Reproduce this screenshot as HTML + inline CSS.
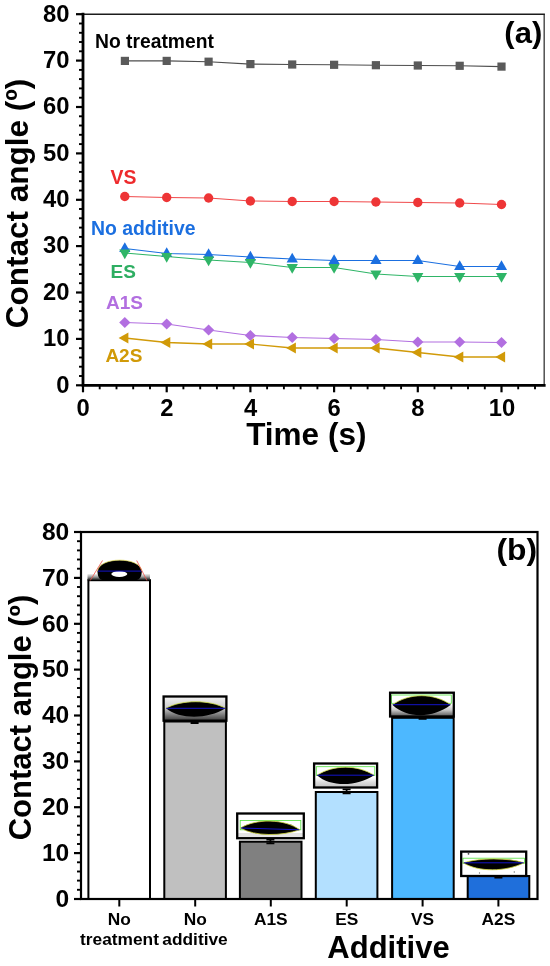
<!DOCTYPE html>
<html lang="en"><head><meta charset="utf-8"><title>Contact angle charts</title>
<style>html,body{margin:0;padding:0;background:#fff;}body{width:550px;height:966px;overflow:hidden;}svg{display:block;}text{font-family:"Liberation Sans", Arial, Helvetica, sans-serif;font-weight:bold;}</style>
</head><body>
<svg width="550" height="966" viewBox="0 0 550 966">
<rect x="0" y="0" width="550" height="966" fill="#ffffff"/>
<g id="chart-a">
<path d="M544.2 14.2 V385.3" fill="none" stroke="#505050" stroke-width="1.5"/>
<path d="M83.0 14.2 H544.9" fill="none" stroke="#1c1c1c" stroke-width="1.5"/>
<path d="M83.0 14.2 V385.3 H544.2" fill="none" stroke="#000" stroke-width="2.8" stroke-linecap="square"/>
<line x1="76.0" y1="385.3" x2="83.0" y2="385.3" stroke="#000" stroke-width="2.2"/>
<line x1="79.0" y1="376.0" x2="83.0" y2="376.0" stroke="#000" stroke-width="1.9"/>
<line x1="79.0" y1="366.7" x2="83.0" y2="366.7" stroke="#000" stroke-width="1.9"/>
<line x1="79.0" y1="357.5" x2="83.0" y2="357.5" stroke="#000" stroke-width="1.9"/>
<line x1="79.0" y1="348.2" x2="83.0" y2="348.2" stroke="#000" stroke-width="1.9"/>
<line x1="76.0" y1="338.9" x2="83.0" y2="338.9" stroke="#000" stroke-width="2.2"/>
<line x1="79.0" y1="329.6" x2="83.0" y2="329.6" stroke="#000" stroke-width="1.9"/>
<line x1="79.0" y1="320.4" x2="83.0" y2="320.4" stroke="#000" stroke-width="1.9"/>
<line x1="79.0" y1="311.1" x2="83.0" y2="311.1" stroke="#000" stroke-width="1.9"/>
<line x1="79.0" y1="301.8" x2="83.0" y2="301.8" stroke="#000" stroke-width="1.9"/>
<line x1="76.0" y1="292.5" x2="83.0" y2="292.5" stroke="#000" stroke-width="2.2"/>
<line x1="79.0" y1="283.2" x2="83.0" y2="283.2" stroke="#000" stroke-width="1.9"/>
<line x1="79.0" y1="274.0" x2="83.0" y2="274.0" stroke="#000" stroke-width="1.9"/>
<line x1="79.0" y1="264.7" x2="83.0" y2="264.7" stroke="#000" stroke-width="1.9"/>
<line x1="79.0" y1="255.4" x2="83.0" y2="255.4" stroke="#000" stroke-width="1.9"/>
<line x1="76.0" y1="246.1" x2="83.0" y2="246.1" stroke="#000" stroke-width="2.2"/>
<line x1="79.0" y1="236.9" x2="83.0" y2="236.9" stroke="#000" stroke-width="1.9"/>
<line x1="79.0" y1="227.6" x2="83.0" y2="227.6" stroke="#000" stroke-width="1.9"/>
<line x1="79.0" y1="218.3" x2="83.0" y2="218.3" stroke="#000" stroke-width="1.9"/>
<line x1="79.0" y1="209.0" x2="83.0" y2="209.0" stroke="#000" stroke-width="1.9"/>
<line x1="76.0" y1="199.8" x2="83.0" y2="199.8" stroke="#000" stroke-width="2.2"/>
<line x1="79.0" y1="190.5" x2="83.0" y2="190.5" stroke="#000" stroke-width="1.9"/>
<line x1="79.0" y1="181.2" x2="83.0" y2="181.2" stroke="#000" stroke-width="1.9"/>
<line x1="79.0" y1="171.9" x2="83.0" y2="171.9" stroke="#000" stroke-width="1.9"/>
<line x1="79.0" y1="162.6" x2="83.0" y2="162.6" stroke="#000" stroke-width="1.9"/>
<line x1="76.0" y1="153.4" x2="83.0" y2="153.4" stroke="#000" stroke-width="2.2"/>
<line x1="79.0" y1="144.1" x2="83.0" y2="144.1" stroke="#000" stroke-width="1.9"/>
<line x1="79.0" y1="134.8" x2="83.0" y2="134.8" stroke="#000" stroke-width="1.9"/>
<line x1="79.0" y1="125.5" x2="83.0" y2="125.5" stroke="#000" stroke-width="1.9"/>
<line x1="79.0" y1="116.3" x2="83.0" y2="116.3" stroke="#000" stroke-width="1.9"/>
<line x1="76.0" y1="107.0" x2="83.0" y2="107.0" stroke="#000" stroke-width="2.2"/>
<line x1="79.0" y1="97.7" x2="83.0" y2="97.7" stroke="#000" stroke-width="1.9"/>
<line x1="79.0" y1="88.4" x2="83.0" y2="88.4" stroke="#000" stroke-width="1.9"/>
<line x1="79.0" y1="79.1" x2="83.0" y2="79.1" stroke="#000" stroke-width="1.9"/>
<line x1="79.0" y1="69.9" x2="83.0" y2="69.9" stroke="#000" stroke-width="1.9"/>
<line x1="76.0" y1="60.6" x2="83.0" y2="60.6" stroke="#000" stroke-width="2.2"/>
<line x1="79.0" y1="51.3" x2="83.0" y2="51.3" stroke="#000" stroke-width="1.9"/>
<line x1="79.0" y1="42.0" x2="83.0" y2="42.0" stroke="#000" stroke-width="1.9"/>
<line x1="79.0" y1="32.8" x2="83.0" y2="32.8" stroke="#000" stroke-width="1.9"/>
<line x1="79.0" y1="23.5" x2="83.0" y2="23.5" stroke="#000" stroke-width="1.9"/>
<line x1="76.0" y1="14.2" x2="83.0" y2="14.2" stroke="#000" stroke-width="2.2"/>
<line x1="83.0" y1="385.3" x2="83.0" y2="392.3" stroke="#000" stroke-width="2.2"/>
<line x1="99.7" y1="385.3" x2="99.7" y2="389.3" stroke="#000" stroke-width="1.9"/>
<line x1="116.5" y1="385.3" x2="116.5" y2="389.3" stroke="#000" stroke-width="1.9"/>
<line x1="133.2" y1="385.3" x2="133.2" y2="389.3" stroke="#000" stroke-width="1.9"/>
<line x1="150.0" y1="385.3" x2="150.0" y2="389.3" stroke="#000" stroke-width="1.9"/>
<line x1="166.7" y1="385.3" x2="166.7" y2="392.3" stroke="#000" stroke-width="2.2"/>
<line x1="183.4" y1="385.3" x2="183.4" y2="389.3" stroke="#000" stroke-width="1.9"/>
<line x1="200.2" y1="385.3" x2="200.2" y2="389.3" stroke="#000" stroke-width="1.9"/>
<line x1="216.9" y1="385.3" x2="216.9" y2="389.3" stroke="#000" stroke-width="1.9"/>
<line x1="233.7" y1="385.3" x2="233.7" y2="389.3" stroke="#000" stroke-width="1.9"/>
<line x1="250.4" y1="385.3" x2="250.4" y2="392.3" stroke="#000" stroke-width="2.2"/>
<line x1="267.1" y1="385.3" x2="267.1" y2="389.3" stroke="#000" stroke-width="1.9"/>
<line x1="283.9" y1="385.3" x2="283.9" y2="389.3" stroke="#000" stroke-width="1.9"/>
<line x1="300.6" y1="385.3" x2="300.6" y2="389.3" stroke="#000" stroke-width="1.9"/>
<line x1="317.4" y1="385.3" x2="317.4" y2="389.3" stroke="#000" stroke-width="1.9"/>
<line x1="334.1" y1="385.3" x2="334.1" y2="392.3" stroke="#000" stroke-width="2.2"/>
<line x1="350.8" y1="385.3" x2="350.8" y2="389.3" stroke="#000" stroke-width="1.9"/>
<line x1="367.6" y1="385.3" x2="367.6" y2="389.3" stroke="#000" stroke-width="1.9"/>
<line x1="384.3" y1="385.3" x2="384.3" y2="389.3" stroke="#000" stroke-width="1.9"/>
<line x1="401.1" y1="385.3" x2="401.1" y2="389.3" stroke="#000" stroke-width="1.9"/>
<line x1="417.8" y1="385.3" x2="417.8" y2="392.3" stroke="#000" stroke-width="2.2"/>
<line x1="434.5" y1="385.3" x2="434.5" y2="389.3" stroke="#000" stroke-width="1.9"/>
<line x1="451.3" y1="385.3" x2="451.3" y2="389.3" stroke="#000" stroke-width="1.9"/>
<line x1="468.0" y1="385.3" x2="468.0" y2="389.3" stroke="#000" stroke-width="1.9"/>
<line x1="484.8" y1="385.3" x2="484.8" y2="389.3" stroke="#000" stroke-width="1.9"/>
<line x1="501.5" y1="385.3" x2="501.5" y2="392.3" stroke="#000" stroke-width="2.2"/>
<line x1="518.2" y1="385.3" x2="518.2" y2="389.3" stroke="#000" stroke-width="1.9"/>
<line x1="535.0" y1="385.3" x2="535.0" y2="389.3" stroke="#000" stroke-width="1.9"/>
<text transform="translate(69.5 392.6) scale(1.035 1)" font-size="23" text-anchor="end" fill="#000">0</text>
<text transform="translate(69.5 346.2) scale(1.035 1)" font-size="23" text-anchor="end" fill="#000">10</text>
<text transform="translate(69.5 299.8) scale(1.035 1)" font-size="23" text-anchor="end" fill="#000">20</text>
<text transform="translate(69.5 253.4) scale(1.035 1)" font-size="23" text-anchor="end" fill="#000">30</text>
<text transform="translate(69.5 207.1) scale(1.035 1)" font-size="23" text-anchor="end" fill="#000">40</text>
<text transform="translate(69.5 160.7) scale(1.035 1)" font-size="23" text-anchor="end" fill="#000">50</text>
<text transform="translate(69.5 114.3) scale(1.035 1)" font-size="23" text-anchor="end" fill="#000">60</text>
<text transform="translate(69.5 67.9) scale(1.035 1)" font-size="23" text-anchor="end" fill="#000">70</text>
<text transform="translate(69.5 21.5) scale(1.035 1)" font-size="23" text-anchor="end" fill="#000">80</text>
<text transform="translate(83.1 416.4) scale(1.035 1)" font-size="23" text-anchor="middle" fill="#000">0</text>
<text transform="translate(166.8 416.4) scale(1.035 1)" font-size="23" text-anchor="middle" fill="#000">2</text>
<text transform="translate(250.5 416.4) scale(1.035 1)" font-size="23" text-anchor="middle" fill="#000">4</text>
<text transform="translate(334.2 416.4) scale(1.035 1)" font-size="23" text-anchor="middle" fill="#000">6</text>
<text transform="translate(417.9 416.4) scale(1.035 1)" font-size="23" text-anchor="middle" fill="#000">8</text>
<text transform="translate(502.0 416.4) scale(1.035 1)" font-size="23" text-anchor="middle" fill="#000">10</text>
<text transform="translate(27.5 203.5) rotate(-90)" font-size="31.5" text-anchor="middle" fill="#000">Contact angle (º)</text>
<text x="306.3" y="445" font-size="31.5" text-anchor="middle" fill="#000">Time (s)</text>
<text transform="translate(523.3 42.8) scale(1.07 1)" font-size="29" text-anchor="middle" fill="#000">(a)</text>
<polyline points="124.8,60.9 166.7,60.9 208.6,61.7 250.4,64.1 292.2,64.5 334.1,64.8 375.9,65.2 417.8,65.5 459.7,65.8 501.5,66.6" fill="none" stroke="#4d4d4d" stroke-width="1.1"/>
<rect x="120.8" y="56.8" width="8.2" height="8.2" fill="#5a5a5a"/>
<rect x="162.6" y="56.8" width="8.2" height="8.2" fill="#5a5a5a"/>
<rect x="204.5" y="57.6" width="8.2" height="8.2" fill="#5a5a5a"/>
<rect x="246.3" y="60.0" width="8.2" height="8.2" fill="#5a5a5a"/>
<rect x="288.1" y="60.4" width="8.2" height="8.2" fill="#5a5a5a"/>
<rect x="330.0" y="60.7" width="8.2" height="8.2" fill="#5a5a5a"/>
<rect x="371.8" y="61.1" width="8.2" height="8.2" fill="#5a5a5a"/>
<rect x="413.7" y="61.4" width="8.2" height="8.2" fill="#5a5a5a"/>
<rect x="455.6" y="61.7" width="8.2" height="8.2" fill="#5a5a5a"/>
<rect x="497.4" y="62.5" width="8.2" height="8.2" fill="#5a5a5a"/>
<polyline points="124.8,196.5 166.7,197.5 208.6,198.0 250.4,201.0 292.2,201.5 334.1,201.5 375.9,202.0 417.8,202.5 459.7,203.0 501.5,204.5" fill="none" stroke="#f04a4c" stroke-width="1.1"/>
<circle cx="124.8" cy="196.5" r="4.7" fill="#ee3536"/>
<circle cx="166.7" cy="197.5" r="4.7" fill="#ee3536"/>
<circle cx="208.6" cy="198.0" r="4.7" fill="#ee3536"/>
<circle cx="250.4" cy="201.0" r="4.7" fill="#ee3536"/>
<circle cx="292.2" cy="201.5" r="4.7" fill="#ee3536"/>
<circle cx="334.1" cy="201.5" r="4.7" fill="#ee3536"/>
<circle cx="375.9" cy="202.0" r="4.7" fill="#ee3536"/>
<circle cx="417.8" cy="202.5" r="4.7" fill="#ee3536"/>
<circle cx="459.7" cy="203.0" r="4.7" fill="#ee3536"/>
<circle cx="501.5" cy="204.5" r="4.7" fill="#ee3536"/>
<polyline points="124.8,248.5 166.7,253.5 208.6,254.5 250.4,257.0 292.2,259.0 334.1,260.5 375.9,260.5 417.8,260.5 459.7,266.5 501.5,266.5" fill="none" stroke="#1b6fe0" stroke-width="1.1"/>
<path d="M124.8 242.3 L130.4 252.1 L119.2 252.1 Z" fill="#1b6fe0"/>
<path d="M166.7 247.3 L172.3 257.1 L161.1 257.1 Z" fill="#1b6fe0"/>
<path d="M208.6 248.3 L214.2 258.1 L203.0 258.1 Z" fill="#1b6fe0"/>
<path d="M250.4 250.8 L256.0 260.6 L244.8 260.6 Z" fill="#1b6fe0"/>
<path d="M292.2 252.8 L297.9 262.6 L286.6 262.6 Z" fill="#1b6fe0"/>
<path d="M334.1 254.3 L339.7 264.1 L328.5 264.1 Z" fill="#1b6fe0"/>
<path d="M375.9 254.3 L381.6 264.1 L370.3 264.1 Z" fill="#1b6fe0"/>
<path d="M417.8 254.3 L423.4 264.1 L412.2 264.1 Z" fill="#1b6fe0"/>
<path d="M459.7 260.3 L465.3 270.1 L454.1 270.1 Z" fill="#1b6fe0"/>
<path d="M501.5 260.3 L507.1 270.1 L495.9 270.1 Z" fill="#1b6fe0"/>
<polyline points="124.8,253.0 166.7,256.5 208.6,260.0 250.4,262.5 292.2,267.5 334.1,267.5 375.9,274.0 417.8,276.5 459.7,276.5 501.5,276.5" fill="none" stroke="#2fb567" stroke-width="1.1"/>
<path d="M124.8 259.2 L130.4 249.4 L119.2 249.4 Z" fill="#2fb567"/>
<path d="M166.7 262.7 L172.3 252.9 L161.1 252.9 Z" fill="#2fb567"/>
<path d="M208.6 266.2 L214.2 256.4 L203.0 256.4 Z" fill="#2fb567"/>
<path d="M250.4 268.7 L256.0 258.9 L244.8 258.9 Z" fill="#2fb567"/>
<path d="M292.2 273.7 L297.9 263.9 L286.6 263.9 Z" fill="#2fb567"/>
<path d="M334.1 273.7 L339.7 263.9 L328.5 263.9 Z" fill="#2fb567"/>
<path d="M375.9 280.2 L381.6 270.4 L370.3 270.4 Z" fill="#2fb567"/>
<path d="M417.8 282.7 L423.4 272.9 L412.2 272.9 Z" fill="#2fb567"/>
<path d="M459.7 282.7 L465.3 272.9 L454.1 272.9 Z" fill="#2fb567"/>
<path d="M501.5 282.7 L507.1 272.9 L495.9 272.9 Z" fill="#2fb567"/>
<polyline points="124.8,322.5 166.7,324.0 208.6,330.0 250.4,335.5 292.2,337.5 334.1,338.5 375.9,339.5 417.8,342.0 459.7,342.0 501.5,342.5" fill="none" stroke="#b26fe0" stroke-width="1.1"/>
<path d="M124.8 316.9 L130.4 322.5 L124.8 328.1 L119.2 322.5 Z" fill="#b26fe0"/>
<path d="M166.7 318.4 L172.3 324.0 L166.7 329.6 L161.1 324.0 Z" fill="#b26fe0"/>
<path d="M208.6 324.4 L214.2 330.0 L208.6 335.6 L203.0 330.0 Z" fill="#b26fe0"/>
<path d="M250.4 329.9 L256.0 335.5 L250.4 341.1 L244.8 335.5 Z" fill="#b26fe0"/>
<path d="M292.2 331.9 L297.9 337.5 L292.2 343.1 L286.6 337.5 Z" fill="#b26fe0"/>
<path d="M334.1 332.9 L339.7 338.5 L334.1 344.1 L328.5 338.5 Z" fill="#b26fe0"/>
<path d="M375.9 333.9 L381.6 339.5 L375.9 345.1 L370.3 339.5 Z" fill="#b26fe0"/>
<path d="M417.8 336.4 L423.4 342.0 L417.8 347.6 L412.2 342.0 Z" fill="#b26fe0"/>
<path d="M459.7 336.4 L465.3 342.0 L459.7 347.6 L454.1 342.0 Z" fill="#b26fe0"/>
<path d="M501.5 336.9 L507.1 342.5 L501.5 348.1 L495.9 342.5 Z" fill="#b26fe0"/>
<polyline points="124.8,338.0 166.7,342.5 208.6,344.0 250.4,344.0 292.2,348.0 334.1,348.0 375.9,348.0 417.8,352.5 459.7,357.0 501.5,357.0" fill="none" stroke="#d19a08" stroke-width="1.4"/>
<path d="M118.6 338.0 L128.4 332.4 L128.4 343.6 Z" fill="#d19a08"/>
<path d="M160.5 342.5 L170.3 336.9 L170.3 348.1 Z" fill="#d19a08"/>
<path d="M202.4 344.0 L212.2 338.4 L212.2 349.6 Z" fill="#d19a08"/>
<path d="M244.2 344.0 L254.0 338.4 L254.0 349.6 Z" fill="#d19a08"/>
<path d="M286.1 348.0 L295.9 342.4 L295.9 353.6 Z" fill="#d19a08"/>
<path d="M327.9 348.0 L337.7 342.4 L337.7 353.6 Z" fill="#d19a08"/>
<path d="M369.8 348.0 L379.6 342.4 L379.6 353.6 Z" fill="#d19a08"/>
<path d="M411.6 352.5 L421.4 346.9 L421.4 358.1 Z" fill="#d19a08"/>
<path d="M453.5 357.0 L463.3 351.4 L463.3 362.6 Z" fill="#d19a08"/>
<path d="M495.3 357.0 L505.1 351.4 L505.1 362.6 Z" fill="#d19a08"/>
<text x="95" y="47.6" font-size="19.3" fill="#000">No treatment</text>
<text x="110.5" y="184.2" font-size="19.4" fill="#ee2a2c">VS</text>
<text x="91" y="234.6" font-size="19.4" fill="#1b6fe0">No additive</text>
<text x="110.6" y="278.4" font-size="19" fill="#2eae62">ES</text>
<text x="106" y="308.5" font-size="19" fill="#b26fe0">A1S</text>
<text x="105.4" y="361.6" font-size="19" fill="#d19a08">A2S</text>
</g>
<g id="chart-b">
<defs>
<linearGradient id="gg" x1="0" y1="0" x2="0" y2="1"><stop offset="0" stop-color="#f4f4f4"/><stop offset="0.45" stop-color="#cfcfcf"/><stop offset="1" stop-color="#3a3a3a"/></linearGradient>
<linearGradient id="gw" x1="0" y1="0" x2="0" y2="1"><stop offset="0" stop-color="#ffffff"/><stop offset="0.7" stop-color="#f1f1f1"/><stop offset="1" stop-color="#d8d8d8"/></linearGradient>
<linearGradient id="gb" x1="0" y1="0" x2="0" y2="1"><stop offset="0" stop-color="#ffffff"/><stop offset="0.5" stop-color="#9a9a9a"/><stop offset="1" stop-color="#000000"/></linearGradient>
<linearGradient id="gs" x1="0" y1="0" x2="0" y2="1"><stop offset="0" stop-color="#ffffff"/><stop offset="0.5" stop-color="#dcdcdc"/><stop offset="1" stop-color="#c4c4c4"/></linearGradient>
<linearGradient id="gd" x1="0" y1="0" x2="0" y2="1"><stop offset="0" stop-color="#ffffff"/><stop offset="0.5" stop-color="#c8c8c8"/><stop offset="1" stop-color="#5a5a5a"/></linearGradient>
</defs>
<rect x="88.4" y="580.2" width="61.6" height="318.8" fill="#ffffff" stroke="#000" stroke-width="2"/>
<rect x="164.3" y="721.5" width="61.6" height="177.5" fill="#c0c0c0" stroke="#000" stroke-width="2"/>
<rect x="239.9" y="841.7" width="61.6" height="57.3" fill="#808080" stroke="#000" stroke-width="2"/>
<rect x="315.8" y="792.0" width="61.6" height="107.0" fill="#b3e0ff" stroke="#000" stroke-width="2"/>
<rect x="392.1" y="717.8" width="61.6" height="181.2" fill="#4db8ff" stroke="#000" stroke-width="2"/>
<rect x="467.7" y="876.0" width="61.6" height="23.0" fill="#1f6fdb" stroke="#000" stroke-width="2"/>
<rect x="81.0" y="532.0" width="456.5" height="367.0" fill="none" stroke="#000" stroke-width="2.2"/>
<line x1="74.0" y1="899.0" x2="81.0" y2="899.0" stroke="#000" stroke-width="2.2"/>
<line x1="77.0" y1="889.8" x2="81.0" y2="889.8" stroke="#000" stroke-width="1.9"/>
<line x1="77.0" y1="880.6" x2="81.0" y2="880.6" stroke="#000" stroke-width="1.9"/>
<line x1="77.0" y1="871.5" x2="81.0" y2="871.5" stroke="#000" stroke-width="1.9"/>
<line x1="77.0" y1="862.3" x2="81.0" y2="862.3" stroke="#000" stroke-width="1.9"/>
<line x1="74.0" y1="853.1" x2="81.0" y2="853.1" stroke="#000" stroke-width="2.2"/>
<line x1="77.0" y1="844.0" x2="81.0" y2="844.0" stroke="#000" stroke-width="1.9"/>
<line x1="77.0" y1="834.8" x2="81.0" y2="834.8" stroke="#000" stroke-width="1.9"/>
<line x1="77.0" y1="825.6" x2="81.0" y2="825.6" stroke="#000" stroke-width="1.9"/>
<line x1="77.0" y1="816.4" x2="81.0" y2="816.4" stroke="#000" stroke-width="1.9"/>
<line x1="74.0" y1="807.2" x2="81.0" y2="807.2" stroke="#000" stroke-width="2.2"/>
<line x1="77.0" y1="798.1" x2="81.0" y2="798.1" stroke="#000" stroke-width="1.9"/>
<line x1="77.0" y1="788.9" x2="81.0" y2="788.9" stroke="#000" stroke-width="1.9"/>
<line x1="77.0" y1="779.7" x2="81.0" y2="779.7" stroke="#000" stroke-width="1.9"/>
<line x1="77.0" y1="770.5" x2="81.0" y2="770.5" stroke="#000" stroke-width="1.9"/>
<line x1="74.0" y1="761.4" x2="81.0" y2="761.4" stroke="#000" stroke-width="2.2"/>
<line x1="77.0" y1="752.2" x2="81.0" y2="752.2" stroke="#000" stroke-width="1.9"/>
<line x1="77.0" y1="743.0" x2="81.0" y2="743.0" stroke="#000" stroke-width="1.9"/>
<line x1="77.0" y1="733.9" x2="81.0" y2="733.9" stroke="#000" stroke-width="1.9"/>
<line x1="77.0" y1="724.7" x2="81.0" y2="724.7" stroke="#000" stroke-width="1.9"/>
<line x1="74.0" y1="715.5" x2="81.0" y2="715.5" stroke="#000" stroke-width="2.2"/>
<line x1="77.0" y1="706.3" x2="81.0" y2="706.3" stroke="#000" stroke-width="1.9"/>
<line x1="77.0" y1="697.1" x2="81.0" y2="697.1" stroke="#000" stroke-width="1.9"/>
<line x1="77.0" y1="688.0" x2="81.0" y2="688.0" stroke="#000" stroke-width="1.9"/>
<line x1="77.0" y1="678.8" x2="81.0" y2="678.8" stroke="#000" stroke-width="1.9"/>
<line x1="74.0" y1="669.6" x2="81.0" y2="669.6" stroke="#000" stroke-width="2.2"/>
<line x1="77.0" y1="660.5" x2="81.0" y2="660.5" stroke="#000" stroke-width="1.9"/>
<line x1="77.0" y1="651.3" x2="81.0" y2="651.3" stroke="#000" stroke-width="1.9"/>
<line x1="77.0" y1="642.1" x2="81.0" y2="642.1" stroke="#000" stroke-width="1.9"/>
<line x1="77.0" y1="632.9" x2="81.0" y2="632.9" stroke="#000" stroke-width="1.9"/>
<line x1="74.0" y1="623.8" x2="81.0" y2="623.8" stroke="#000" stroke-width="2.2"/>
<line x1="77.0" y1="614.6" x2="81.0" y2="614.6" stroke="#000" stroke-width="1.9"/>
<line x1="77.0" y1="605.4" x2="81.0" y2="605.4" stroke="#000" stroke-width="1.9"/>
<line x1="77.0" y1="596.2" x2="81.0" y2="596.2" stroke="#000" stroke-width="1.9"/>
<line x1="77.0" y1="587.0" x2="81.0" y2="587.0" stroke="#000" stroke-width="1.9"/>
<line x1="74.0" y1="577.9" x2="81.0" y2="577.9" stroke="#000" stroke-width="2.2"/>
<line x1="77.0" y1="568.7" x2="81.0" y2="568.7" stroke="#000" stroke-width="1.9"/>
<line x1="77.0" y1="559.5" x2="81.0" y2="559.5" stroke="#000" stroke-width="1.9"/>
<line x1="77.0" y1="550.4" x2="81.0" y2="550.4" stroke="#000" stroke-width="1.9"/>
<line x1="77.0" y1="541.2" x2="81.0" y2="541.2" stroke="#000" stroke-width="1.9"/>
<line x1="74.0" y1="532.0" x2="81.0" y2="532.0" stroke="#000" stroke-width="2.2"/>
<line x1="119.3" y1="899.0" x2="119.3" y2="906.5" stroke="#000" stroke-width="2"/>
<line x1="195.2" y1="899.0" x2="195.2" y2="906.5" stroke="#000" stroke-width="2"/>
<line x1="270.8" y1="899.0" x2="270.8" y2="906.5" stroke="#000" stroke-width="2"/>
<line x1="346.7" y1="899.0" x2="346.7" y2="906.5" stroke="#000" stroke-width="2"/>
<line x1="422.6" y1="899.0" x2="422.6" y2="906.5" stroke="#000" stroke-width="2"/>
<line x1="498.4" y1="899.0" x2="498.4" y2="906.5" stroke="#000" stroke-width="2"/>
<text transform="translate(69.3 906.8) scale(1.07 1)" font-size="23" text-anchor="end" fill="#000">0</text>
<text transform="translate(69.3 860.9) scale(1.07 1)" font-size="23" text-anchor="end" fill="#000">10</text>
<text transform="translate(69.3 815.0) scale(1.07 1)" font-size="23" text-anchor="end" fill="#000">20</text>
<text transform="translate(69.3 769.2) scale(1.07 1)" font-size="23" text-anchor="end" fill="#000">30</text>
<text transform="translate(69.3 723.3) scale(1.07 1)" font-size="23" text-anchor="end" fill="#000">40</text>
<text transform="translate(69.3 677.4) scale(1.07 1)" font-size="23" text-anchor="end" fill="#000">50</text>
<text transform="translate(69.3 631.5) scale(1.07 1)" font-size="23" text-anchor="end" fill="#000">60</text>
<text transform="translate(69.3 585.7) scale(1.07 1)" font-size="23" text-anchor="end" fill="#000">70</text>
<text transform="translate(69.3 539.8) scale(1.07 1)" font-size="23" text-anchor="end" fill="#000">80</text>
<text transform="translate(31.3 717.5) rotate(-90)" font-size="31" text-anchor="middle" fill="#000">Contact angle (º)</text>
<text x="388.5" y="958" font-size="31" text-anchor="middle" fill="#000">Additive</text>
<text transform="translate(516.8 559.6) scale(1.06 1)" font-size="30" text-anchor="middle" fill="#000">(b)</text>
<text transform="translate(119.3 924.6) scale(1.07 1)" font-size="16.2" text-anchor="middle" fill="#000">No</text>
<text transform="translate(119.5 945.4) scale(1.07 1)" font-size="16.2" text-anchor="middle" fill="#000">treatment</text>
<text transform="translate(195.2 924.6) scale(1.07 1)" font-size="16.2" text-anchor="middle" fill="#000">No</text>
<text transform="translate(195.0 945.4) scale(1.07 1)" font-size="16.2" text-anchor="middle" fill="#000">additive</text>
<text transform="translate(270.8 924.6) scale(1.07 1)" font-size="16.2" text-anchor="middle" fill="#000">A1S</text>
<text transform="translate(346.7 924.6) scale(1.07 1)" font-size="16.2" text-anchor="middle" fill="#000">ES</text>
<text transform="translate(422.6 924.6) scale(1.07 1)" font-size="16.2" text-anchor="middle" fill="#000">VS</text>
<text transform="translate(498.4 924.6) scale(1.07 1)" font-size="16.2" text-anchor="middle" fill="#000">A2S</text>
<g id="inset1">
<rect x="87.5" y="573.5" width="62.5" height="7" fill="url(#gb)"/>
<path d="M97.5 571.3 C99 556.4 140.4 556.4 141.8 571.3 C141.8 576.5 139.5 580 136.5 580 L102.5 580 C99.5 580 97.5 576.5 97.5 571.3 Z" fill="#000"/>
<path d="M97.5 571.3 C99 556.4 140.4 556.4 141.8 571.3" fill="none" stroke="#e0d84a" stroke-width="0.7"/>
<ellipse cx="119.3" cy="574" rx="8" ry="2.9" fill="#fff"/>
<line x1="98" y1="571.1" x2="141.5" y2="571.1" stroke="#1414c8" stroke-width="1"/>
<line x1="90.2" y1="580.5" x2="102.5" y2="560.5" stroke="#f0504a" stroke-width="0.8"/>
<line x1="146.9" y1="580.5" x2="136.7" y2="560.5" stroke="#f0504a" stroke-width="0.8"/>
</g>
<path d="M190.6 720.5 H198.6 M194.6 720.5 V723.0 M190.6 723.0 H198.6" fill="none" stroke="#000" stroke-width="1.8"/>
<path d="M266.4 839.6 H274.4 M270.4 839.6 V843.3 M266.4 843.3 H274.4" fill="none" stroke="#000" stroke-width="1.8"/>
<path d="M342.6 789.3 H350.6 M346.6 789.3 V793.3 M342.6 793.3 H350.6" fill="none" stroke="#000" stroke-width="1.8"/>
<path d="M418.6 716.2 H426.6 M422.6 716.2 V718.8 M418.6 718.8 H426.6" fill="none" stroke="#000" stroke-width="1.8"/>
<path d="M494.4 875.0 H502.4 M498.4 875.0 V877.6 M494.4 877.6 H502.4" fill="none" stroke="#000" stroke-width="1.8"/>
<g><rect x="163.6" y="696.5" width="62.8" height="24.2" fill="#fff"/><rect x="163.6" y="696.5" width="62.8" height="24.2" fill="url(#gg)"/><path d="M165.9 708.3 C181.4 699.5 210.0 699.5 225.5 708.3 C207.6 719.4 180.2 719.8 165.9 708.3 Z" fill="#000"/><path d="M165.9 708.3 C181.4 699.5 210.0 699.5 225.5 708.3" fill="none" stroke="#cfe048" stroke-width="0.8"/><line x1="166.4" y1="708.3" x2="225.0" y2="708.3" stroke="#1414c8" stroke-width="1"/><rect x="163.6" y="696.5" width="62.8" height="24.2" fill="none" stroke="#000" stroke-width="2.3"/></g>
<g><rect x="237.2" y="813.5" width="66.6" height="24.7" fill="#fff"/><rect x="238" y="833" width="65" height="4.5" fill="#e4e4e4"/><rect x="240.2" y="820.4" width="60.6" height="9.4" fill="none" stroke="#52e03c" stroke-width="0.8"/><path d="M240.5 828.0 C255.9 818.5 284.4 818.5 299.8 829.8 C282.0 836.2 254.7 836.6 240.5 828.0 Z" fill="#000" stroke="#cfd63c" stroke-width="0.8"/><line x1="241.0" y1="828.0" x2="299.3" y2="829.8" stroke="#1414c8" stroke-width="1"/><rect x="237.2" y="813.5" width="66.6" height="24.7" fill="none" stroke="#000" stroke-width="2.3"/></g>
<g><rect x="314.1" y="763.5" width="63.0" height="24.0" fill="#fff"/><rect x="315" y="777.5" width="61.5" height="9.5" fill="url(#gs)"/><rect x="316.3" y="766.7" width="58.5" height="8.8" fill="none" stroke="#52e03c" stroke-width="0.8"/><path d="M316.9 775.2 C334.1 764.5 356.9 764.5 374.1 775.2 C356.9 786.8 330.6 787.2 316.9 775.2 Z" fill="#000"/><path d="M316.9 775.2 C334.1 764.5 356.9 764.5 374.1 775.2" fill="none" stroke="#cfe048" stroke-width="0.8"/><line x1="317.4" y1="775.2" x2="373.6" y2="775.2" stroke="#1414c8" stroke-width="1"/><rect x="314.1" y="763.5" width="63.0" height="24.0" fill="none" stroke="#000" stroke-width="2.3"/></g>
<g><rect x="390.1" y="692.7" width="63.7" height="23.8" fill="#fff"/><rect x="391" y="704" width="62" height="12" fill="url(#gd)"/><rect x="391.6" y="695.0" width="59.7" height="8.3" fill="none" stroke="#52e03c" stroke-width="0.8"/><path d="M392.4 704.7 C409.9 692.7 433.3 692.7 450.8 704.7 C433.3 718.4 406.4 718.8 392.4 704.7 Z" fill="#000"/><path d="M392.4 704.7 C409.9 692.7 433.3 692.7 450.8 704.7" fill="none" stroke="#cfe048" stroke-width="0.8"/><line x1="392.9" y1="704.7" x2="450.3" y2="704.7" stroke="#1414c8" stroke-width="1"/><rect x="390.1" y="692.7" width="63.7" height="23.8" fill="none" stroke="#000" stroke-width="2.3"/></g>
<g><rect x="461.2" y="851.6" width="65.0" height="24.4" fill="#fff"/><circle cx="468.5" cy="853.8" r="0.9" fill="#444"/><circle cx="479.5" cy="873" r="0.7" fill="#777"/><circle cx="514.3" cy="872" r="0.7" fill="#777"/><rect x="463.0" y="858.2" width="61.5" height="5.1" fill="none" stroke="#52e03c" stroke-width="0.8"/><path d="M463.4 862.8 C479.2 857.6 508.3 857.6 524.1 862.8 C505.9 871.9 478.0 872.3 463.4 862.8 Z" fill="#000" stroke="#cfd63c" stroke-width="0.8"/><line x1="463.9" y1="862.8" x2="523.6" y2="862.8" stroke="#1414c8" stroke-width="1"/><rect x="461.2" y="851.6" width="65.0" height="24.4" fill="none" stroke="#000" stroke-width="2.3"/></g>
</g>
</svg>
</body></html>
